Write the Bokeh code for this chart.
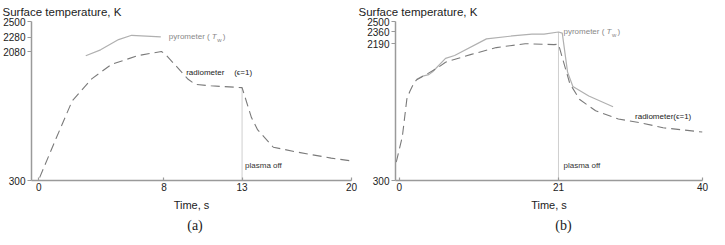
from bokeh.plotting import figure
from bokeh.models import Label, Title, FixedTicker, Range1d, Div
from bokeh.layouts import row, column
from bokeh.embed import file_html
from bokeh.resources import INLINE

# ---------------- data (a) ----------------
a_rad_t = [0.05, 1.1, 2.13, 3.4, 4.67, 6.38, 7.84, 8.1, 9.55, 10.0, 11.0, 13.0, 13.6, 14.0, 15.0, 16.6, 18.7, 20.0]
a_rad_T = [340, 880, 1400, 1710, 1910, 2030, 2085, 2045, 1700, 1630, 1610, 1585, 1170, 1000, 760, 690, 610, 570]
a_pyr_t = [3.0, 3.95, 5.1, 5.94, 7.8]
a_pyr_T = [2027, 2108, 2250, 2309, 2287]
a_xticks = [0, 8, 13, 20]
a_yticks = [300, 2080, 2280, 2500]
a_off = 13

# ---------------- data (b) ----------------
b_rad_t = [-0.4, 0.4, 1.0, 1.4, 1.9, 2.3, 3.5, 5.2, 6.1, 9.5, 12.8, 16.6, 20.4, 21.0, 21.6, 22.5, 23.8, 25.9, 28.9, 31.8, 34.8, 40.0]
b_rad_T = [555, 905, 1430, 1535, 1642, 1695, 1763, 1870, 1937, 2045, 2139, 2193, 2180, 2185, 1965, 1640, 1420, 1265, 1150, 1100, 1030, 970]
b_pyr_t = [2.3, 3.1, 3.9, 4.4, 6.1, 7.3, 11.5, 14.9, 17.5, 19.1, 21.0, 21.5, 22.2, 22.9, 25.0, 28.2]
b_pyr_T = [1700, 1745, 1765, 1805, 1990, 2030, 2260, 2300, 2325, 2325, 2355, 2340, 1800, 1600, 1470, 1320]
b_xticks = [0, 21, 40]
b_yticks = [300, 2190, 2360, 2500]
b_off = 21

Y_MIN, Y_MAX = 300, 2500

SANS = "Liberation Sans"
SERIF = "Liberation Serif"
AXIS_C = "#9a9a9a"
PYR_C = "#b0b0b0"
RAD_C = "#7a7a7a"
LBL = "8px"
FIG_H = 213
CAP_H = 16


def make_panel(width, left, right, xr, xticks, yticks):
    p = figure(width=width, height=FIG_H, output_backend="svg", toolbar_location=None,
               x_range=Range1d(*xr), y_range=Range1d(Y_MIN, Y_MAX),
               min_border_left=left, min_border_right=right, min_border_top=0,
               min_border_bottom=0)
    p.title = Title(text="Surface temperature, K", align="left", offset=-left,
                    text_font=SANS, text_font_size="11.5px", text_font_style="normal",
                    text_color="#222222", standoff=7)
    p.grid.visible = False
    p.outline_line_color = None
    p.background_fill_color = "white"
    p.border_fill_color = "white"
    for ax in (p.xaxis[0], p.yaxis[0]):
        ax.axis_line_color = AXIS_C
        ax.axis_line_width = 1.5
        ax.major_tick_line_color = AXIS_C
        ax.major_tick_line_width = 1.2
        ax.minor_tick_line_color = None
        ax.major_label_text_font = SANS
        ax.major_label_text_font_size = "10px"
        ax.major_label_text_color = "#222222"
    p.xaxis.ticker = FixedTicker(ticks=xticks)
    p.yaxis.ticker = FixedTicker(ticks=yticks)
    p.xaxis.major_tick_in = 3
    p.xaxis.major_tick_out = 0
    p.yaxis.major_tick_in = 0
    p.yaxis.major_tick_out = 4
    p.xaxis.major_label_standoff = 2
    p.yaxis.major_label_standoff = 2
    p.xaxis.axis_label = "Time, s"
    p.xaxis.axis_label_text_font = SANS
    p.xaxis.axis_label_text_font_size = "11px"
    p.xaxis.axis_label_text_font_style = "normal"
    p.xaxis.axis_label_text_color = "#222222"
    p.xaxis.axis_label_standoff = 5
    return p


def caption(text, width, pad_left, pad_right):
    return Div(text=text, width=width, height=CAP_H,
               styles={"text-align": "center", "font-family": SERIF, "font-size": "14px",
                       "line-height": f"{CAP_H}px", "color": "#222222",
                       "padding-left": f"{pad_left}px", "padding-right": f"{pad_right}px",
                       "box-sizing": "border-box"})


def lab(p, x, y, text, dx, dy, color="#222222", size=LBL, style="normal"):
    p.add_layout(Label(x=x, y=y, text=text, x_offset=dx, y_offset=dy,
                       text_font=SANS, text_font_size=size, text_font_style=style,
                       text_color=color, text_baseline="middle", text_align="left"))


def pyro_label(p, x, y, dx, dy):
    lab(p, x, y, "pyrometer (", dx, dy, color="#888888")
    lab(p, x, y, "T", dx + 43, dy, color="#888888", style="italic")
    lab(p, x, y, "w", dx + 48.5, dy - 3, color="#888888", size="6px")
    lab(p, x, y, ")", dx + 54, dy, color="#888888")


A_W, A_L, B_W, B_L, R = 358, 29, 351, 37, 7

# ---------------- panel (a) ----------------
pa = make_panel(A_W, A_L, R, (-0.47, 20), a_xticks, a_yticks)
ia = a_rad_t.index(a_off)
pa.segment(x0=[a_off], y0=[Y_MIN], x1=[a_off], y1=[a_rad_T[ia]], line_color="#cfcfcf", line_width=1)
pa.line(a_pyr_t, a_pyr_T, line_color=PYR_C, line_width=1.2)
pa.line(a_rad_t, a_rad_T, line_color=RAD_C, line_width=1.1, line_dash="9 5")
pyro_label(pa, a_pyr_t[-1], a_pyr_T[-1], 8, 0)
lab(pa, a_rad_t[8], a_rad_T[8], "radiometer", -2, 7)
lab(pa, a_rad_t[8], a_rad_T[8], "(\u03f5=1)", 46, 7)
lab(pa, a_off, Y_MIN, "plasma off", 3, 15, color="#333333")

# ---------------- panel (b) ----------------
pb = make_panel(B_W, B_L, R, (-0.5, 40), b_xticks, b_yticks)
ib = b_pyr_t.index(b_off)
pb.segment(x0=[b_off], y0=[Y_MIN], x1=[b_off], y1=[b_pyr_T[ib]], line_color="#cfcfcf", line_width=1)
pb.line(b_pyr_t, b_pyr_T, line_color=PYR_C, line_width=1.2)
pb.line(b_rad_t, b_rad_T, line_color=RAD_C, line_width=1.1, line_dash="9 5")
pyro_label(pb, b_pyr_t[ib], b_pyr_T[ib], 5, 0)
lab(pb, b_pyr_t[-1], b_pyr_T[-1], "radiometer(\u03f5=1)", 22, -10)
lab(pb, b_off, Y_MIN, "plasma off", 5, 15, color="#333333")

layout = column(row(pa, pb), row(caption("(a)", A_W, A_L, R), caption("(b)", B_W, B_L, R)))
open("out.html", "w").write(file_html(layout, INLINE))
